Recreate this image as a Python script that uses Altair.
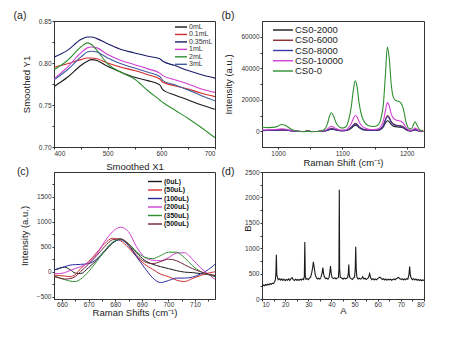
import json
import altair as alt
import pandas as pd

FONT = "Liberation Sans"

# ---------------- panel (a) ----------------
a_x = [400, 425, 450, 462, 470, 480, 500, 525, 550, 575, 597, 603, 625, 650, 675, 700]
a_series = ["0mL", "0.1mL", "0.35mL", "1mL", "2mL", "3mL"]
a_colors = ["#1a1a1a", "#d42a2a", "#1c1c6a", "#d23fd2", "#2f8f2f", "#3f5f9f"]
a_0mL = [.772, .783, .797, .802, .804, .803, .796, .789, .783, .779, .774, .768, .762, .756, .750, .745]
a_01mL = [.795, .799, .804, .806, .806, .805, .800, .795, .791, .786, .781, .777, .773, .769, .764, .760]
a_035mL = [.807, .815, .828, .831, .831, .829, .823, .816, .812, .808, .805, .802, .797, .791, .786, .782]
a_1mL = [.781, .795, .812, .818, .819, .818, .810, .803, .798, .793, .788, .785, .780, .775, .769, .765]
a_2mL = [.792, .803, .819, .824, .822, .815, .799, .789, .781, .767, .756, .753, .744, .734, .723, .711]
a_3mL = [.780, .792, .807, .813, .814, .813, .806, .799, .794, .789, .784, .779, .774, .768, .761, .755]
a_values = [a_0mL, a_01mL, a_035mL, a_1mL, a_2mL, a_3mL]
a_xticks = [400, 450, 500, 550, 600, 650, 700]
a_xmajor = [400, 500, 600, 700]
a_yticks = [0.70, 0.725, 0.75, 0.775, 0.80, 0.825, 0.85]
a_ymajor = [0.70, 0.75, 0.80, 0.85]

# ---------------- panel (b) ----------------
b_x = [975, 985, 995, 1000, 1005, 1010, 1016, 1022, 1030, 1040, 1046, 1052, 1060, 1068, 1073, 1077, 1080,
       1083, 1086, 1090, 1095, 1100, 1106, 1110, 1114, 1117, 1120, 1123, 1126, 1130, 1135, 1141, 1148, 1155,
       1160, 1164, 1167, 1170, 1173, 1176, 1179, 1183, 1187, 1191, 1195, 1199, 1203, 1207, 1210, 1213, 1216,
       1220, 1226]
b_series = ["CS0-2000", "CS0-6000", "CS0-8000", "CS0-10000", "CS0-0"]
b_colors = ["#1a1a1a", "#8a2a2a", "#3a3aa8", "#d23fd2", "#2f8f2f"]
b_2000 = [400, 450, 500, 600, 700, 650, 450, 200, 0, -200, 150, -200, -200, 100, 200, 600, 1000, 1300, 1150,
          800, 400, 300, 500, 1000, 2000, 3100, 3800, 3400, 2300, 1300, 800, 550, 500, 650, 1300, 2900, 5200,
          6700, 6000, 4300, 3400, 2900, 2700, 2500, 2000, 1000, 400, 250, 500, 800, 550, 150, 0]
b_6000 = [600, 600, 700, 800, 900, 850, 600, 300, 0, -200, 200, -200, -200, 100, 300, 800, 1400, 1700, 1500,
          1000, 500, 400, 600, 1300, 2600, 4000, 5000, 4500, 3000, 1800, 1000, 700, 600, 800, 1700, 4000, 7500,
          10000, 8800, 6200, 4800, 4000, 3700, 3400, 2700, 1400, 500, 300, 700, 1100, 800, 200, 0]
b_8000 = [500, 550, 600, 700, 800, 750, 550, 250, 0, -200, 150, -200, -200, 100, 250, 700, 1200, 1500, 1350,
          900, 450, 350, 550, 1200, 2400, 3700, 4600, 4100, 2800, 1600, 900, 650, 550, 750, 1600, 3700, 7000,
          9200, 8100, 5700, 4400, 3700, 3400, 3100, 2500, 1300, 450, 300, 650, 1000, 700, 200, 0]
b_10000 = [800, 900, 1100, 1300, 1500, 1400, 1000, 400, 0, -200, 300, -200, -200, 100, 500, 1500, 2600, 3100,
           2700, 1700, 900, 700, 1000, 2500, 5000, 8000, 10000, 9000, 6000, 3500, 2000, 1300, 1100, 1400, 3000,
           7000, 13000, 18200, 16000, 11000, 8500, 7200, 6800, 6300, 5000, 2500, 900, 600, 1200, 2000, 1400,
           400, 0]
b_0 = [2500, 2300, 2600, 3300, 4300, 4000, 2500, 900, 0, -300, 100, -300, -200, 300, 1500, 5000, 9500, 11700,
       10000, 5500, 2800, 2000, 3000, 7500, 16000, 26000, 32000, 28000, 18000, 10000, 5500, 3500, 3000, 3800,
       8000, 18000, 36000, 53500, 46000, 30000, 22000, 19500, 19000, 18000, 14000, 6000, 2000, 1500, 3500,
       6000, 4000, 1000, 0]
b_values = [b_2000, b_6000, b_8000, b_10000, b_0]
b_xticks = [1000, 1050, 1100, 1150, 1200]
b_xmajor = [1000, 1100, 1200]
b_yticks = [0, 10000, 20000, 30000, 40000, 50000, 60000]
b_ymajor = [0, 20000, 40000, 60000]

# ---------------- panel (c) ----------------
c_x = [657, 659, 661, 663, 665, 667, 670, 673, 676, 679, 682, 685, 688, 691, 694, 697, 700, 703, 706, 709,
       712, 715, 718]
c_series = ["(0uL)", "(50uL)", "(100uL)", "(200uL)", "(350uL)", "(500uL)"]
c_colors = ["#1a1a1a", "#d03030", "#2a2aa0", "#d23fd2", "#2f8f2f", "#702038"]
c_0 = [30, 70, 90, 40, -30, -40, 80, 230, 400, 570, 650, 560, 380, 230, 150, 100, 60, 20, -10, -20, -40, -60, -80]
c_50 = [-70, -80, -90, -100, -60, 60, 200, 380, 560, 670, 620, 480, 300, 150, 50, -50, -100, -170, -200, -140,
        -80, -30, 0]
c_100 = [30, 60, 100, 130, 140, 145, 160, 250, 420, 580, 640, 520, 300, 80, -120, -220, -180, -130, -130, -110,
         -50, 40, 170]
c_200 = [-40, -40, -20, 20, 60, 100, 180, 350, 600, 800, 890, 800, 500, 290, 230, 220, 280, 370, 380, 250, 80,
         -50, -180]
c_350 = [-90, -120, -160, -190, -200, -150, 0, 200, 420, 590, 650, 560, 400, 290, 260, 320, 390, 390, 280, 120,
         0, -60, -110]
c_500 = [-100, -130, -150, -140, -100, 0, 150, 320, 500, 640, 660, 540, 330, 200, 160, 200, 250, 220, 140, 60,
         0, -50, -90]
c_values = [c_0, c_50, c_100, c_200, c_350, c_500]
c_xticks = [660, 665, 670, 675, 680, 685, 690, 695, 700, 705, 710, 715]
c_xmajor = [660, 670, 680, 690, 700, 710]
c_yticks = [-500, -250, 0, 250, 500, 750, 1000, 1250, 1500, 1750]
c_ymajor = [-500, 0, 500, 1000, 1500]

# ---------------- panel (d) ----------------
d_x = [10, 10.5, 11, 11.5, 12, 12.5, 13, 13.5, 14, 14.5, 15, 15.5, 15.8, 16.0, 16.2, 16.4, 16.7, 17, 17.5, 18,
       18.5, 19, 19.5, 20, 20.5, 21, 21.5, 22, 22.5, 23, 23.5, 24, 24.5, 25, 25.5, 26, 26.5, 27, 27.5, 28, 28.3,
       28.5, 28.7, 29, 29.5, 30, 30.5, 31, 31.5, 32, 32.2, 32.5, 33, 33.5, 34, 34.5, 35, 35.5, 36, 36.3, 36.6,
       37, 37.5, 38, 38.5, 39, 39.3, 39.6, 39.9, 40.3, 41, 41.5, 42, 42.5, 43, 43.25, 43.4, 43.55, 43.8, 44.5,
       45, 45.5, 46, 46.5, 47, 47.3, 47.5, 47.7, 48, 48.5, 49, 49.5, 50, 50.3, 50.5, 50.7, 51, 51.5, 52, 52.5,
       53, 53.5, 54, 54.5, 55, 55.5, 56, 56.5, 57, 57.5, 58, 58.5, 59, 59.5, 60, 60.5, 61, 61.5, 62, 62.5, 63,
       63.5, 64, 64.5, 65, 65.5, 66, 66.5, 67, 67.5, 68, 68.5, 69, 69.5, 70, 70.5, 71, 71.5, 72, 72.5, 73,
       73.5, 73.8, 74.1, 74.5, 75, 75.5, 76, 76.5, 77, 77.5, 78, 78.5, 79, 79.5, 80]
d_y = [250, 275, 260, 285, 270, 290, 280, 300, 290, 310, 305, 340, 390, 500, 870, 480, 420, 380, 400, 370,
       395, 365, 390, 360, 385, 370, 395, 365, 400, 420, 380, 365, 390, 370, 385, 365, 390, 375, 395, 380, 450,
       1120, 450, 390, 400, 380, 410, 430, 520, 650, 730, 640, 480, 420, 395, 410, 390, 430, 520, 620, 500,
       430, 400, 410, 390, 430, 520, 650, 500, 420, 400, 420, 395, 415, 420, 600, 2150, 600, 430, 410,
       390, 415, 395, 410, 420, 500, 680, 480, 420, 400, 385, 410, 430, 600, 1030, 600, 430, 395, 410, 390,
       400, 440, 395, 410, 385, 400, 420, 500, 410, 380, 400, 375, 395, 380, 400, 420, 430, 405, 385, 400, 375,
       395, 370, 390, 375, 390, 370, 385, 395, 380, 400, 415, 425, 400, 385, 400, 375, 395, 380, 400, 390,
       480, 640, 470, 410, 380, 400, 375, 395, 370, 385, 365, 380, 360, 375, 365]
d_xticks = [10, 15, 20, 25, 30, 35, 40, 45, 50, 55, 60, 65, 70, 75, 80]
d_xmajor = [10, 20, 30, 40, 50, 60, 70, 80]
d_yticks = [0, 250, 500, 750, 1000, 1250, 1500, 1750, 2000, 2250, 2500]
d_ymajor = [0, 500, 1000, 1500, 2000, 2500]


def long_df(xs, names, values):
    rows = []
    for name, ys in zip(names, values):
        for x, y in zip(xs, ys):
            rows.append({"x": x, "y": y, "s": name})
    return pd.DataFrame(rows)


def axis(title, ticks, majors, fmt="d", **kw):
    d = dict(title=title, values=ticks, grid=False, tickSize=2, labelPadding=1, titlePadding=2,
             format=fmt,
             labelExpr="indexof(%s, datum.value) >= 0 ? datum.label : ''" % json.dumps(majors))
    d.update(kw)
    return alt.Axis(**d)


def color_enc(names, colors):
    return alt.Color("s:N", scale=alt.Scale(domain=names, range=colors), legend=None)


def manual_legend(names, colors, x0, x1, y0, y1, fontsize, weight="normal", tcolor="#333"):
    n = len(names)
    df = pd.DataFrame({"s": names, "i": list(range(n))})
    df_lab = pd.DataFrame({"lab": names, "k": list(range(n))})
    sym = alt.Chart(df).mark_point(shape="stroke", filled=False, strokeWidth=1.4, opacity=1).encode(
        x=alt.value((x0 + x1) / 2),
        y=alt.Y("i:Q", scale=alt.Scale(domain=[0, n - 1], range=[y0, y1]), axis=None),
        size=alt.value((x1 - x0) ** 2),
        color=color_enc(names, colors))
    text = alt.Chart(df_lab).mark_text(align="left", baseline="middle", font=FONT, fontSize=fontsize,
                                       fontWeight=weight, fill=tcolor, strokeWidth=0).encode(
        x=alt.value(x1 + 2),
        y=alt.Y("k:Q", scale=alt.Scale(domain=[0, n - 1], range=[y0, y1]), axis=None),
        text="lab:N")
    return [sym, text]


def panel_label(txt, dx, dy):
    return alt.Chart(pd.DataFrame({"t": [txt]})).mark_text(
        font=FONT, fontSize=10.5, align="center", baseline="middle", fill="#222"
    ).encode(text="t:N", x=alt.value(dx), y=alt.value(dy))


W_L, W_R, H_T, H_B = 161, 162, 126, 127

# (a)
ca = alt.Chart(long_df(a_x, a_series, a_values)).mark_line(strokeWidth=1.1, clip=True, interpolate="monotone").encode(
    x=alt.X("x:Q", scale=alt.Scale(domain=[400, 700], nice=False),
            axis=axis("Smoothed X1", a_xticks, a_xmajor, titlePadding=5)),
    y=alt.Y("y:Q", scale=alt.Scale(domain=[0.70, 0.85], nice=False, zero=False),
            axis=axis("Smoothed Y1", a_yticks, a_ymajor, fmt=".2f", titlePadding=7)),
    color=color_enc(a_series, a_colors),
)
chart_a = alt.layer(ca, *manual_legend(a_series, a_colors, 121, 133, 6, 43.3, 7),
                    panel_label("(a)", -34, -5)).resolve_scale(y="independent").properties(width=W_L, height=H_T)

# (b)
cb = alt.Chart(long_df(b_x, b_series, b_values)).mark_line(strokeWidth=1.1, clip=True, interpolate="monotone").encode(
    x=alt.X("x:Q", scale=alt.Scale(domain=[975, 1227], nice=False),
            axis=axis("Raman Shift (cm\u207b\u00b9)", b_xticks, b_xmajor, titlePadding=1)),
    y=alt.Y("y:Q", scale=alt.Scale(domain=[-10000, 70000], nice=False, zero=False),
            axis=axis("Intensity (a.u.)", b_yticks, b_ymajor, titlePadding=7)),
    color=color_enc(b_series, b_colors),
)
chart_b = alt.layer(cb, *manual_legend(b_series, b_colors, 11, 31, 9, 50, 9.5, tcolor="#222"),
                    panel_label("(b)", -34, -5)).resolve_scale(y="independent").properties(width=W_R, height=H_T)

# (c)
cc = alt.Chart(long_df(c_x, c_series, c_values)).mark_line(strokeWidth=1.0, clip=True, interpolate="monotone").encode(
    x=alt.X("x:Q", scale=alt.Scale(domain=[657, 717.5], nice=False),
            axis=axis("Raman Shifts (cm\u207b\u00b9)", c_xticks, c_xmajor, titlePadding=0, labelPadding=0)),
    y=alt.Y("y:Q", scale=alt.Scale(domain=[-550, 2000], nice=False, zero=False),
            axis=axis("Intensity (a.u.)", c_yticks, c_ymajor, titlePadding=7)),
    color=color_enc(c_series, c_colors),
)
chart_c = alt.layer(cc, *manual_legend(c_series, c_colors, 94, 108, 9.5, 52, 7, "bold", "#111"),
                    panel_label("(c)", -31, 0)).resolve_scale(y="independent").properties(width=W_L, height=H_B)

# (d)
cd = alt.Chart(pd.DataFrame({"x": d_x, "y": d_y})).mark_line(strokeWidth=1.1, color="#1a1a1a", clip=True).encode(
    x=alt.X("x:Q", scale=alt.Scale(domain=[10, 80], nice=False),
            axis=axis("A", d_xticks, d_xmajor, titleY=6, labelPadding=0)),
    y=alt.Y("y:Q", scale=alt.Scale(domain=[0, 2500], nice=False),
            axis=axis("B", d_yticks, d_ymajor, titleX=-15, titleY=56, titleBaseline="middle")),
)
chart_d = alt.layer(cd, panel_label("(d)", -34, 0)).properties(width=W_R, height=H_B)

chart = (
    alt.concat(chart_a, chart_b, chart_c, chart_d, columns=2, spacing={"row": 25, "column": 47},
               bounds="flush")
    .resolve_scale(x="independent", y="independent", color="independent")
    .properties(padding={"left": 13, "top": 10, "right": 5, "bottom": 5}, background="white")
    .configure_view(stroke="#333", strokeWidth=1)
    .configure_axis(labelFont=FONT, titleFont=FONT, labelColor="#333", titleColor="#222",
                    domainColor="#333", tickColor="#333", labelFontSize=6.5, titleFontSize=9.5,
                    titleFontWeight="normal")
)

chart.save("out.html", embed_options={"renderer": "svg", "actions": False})
